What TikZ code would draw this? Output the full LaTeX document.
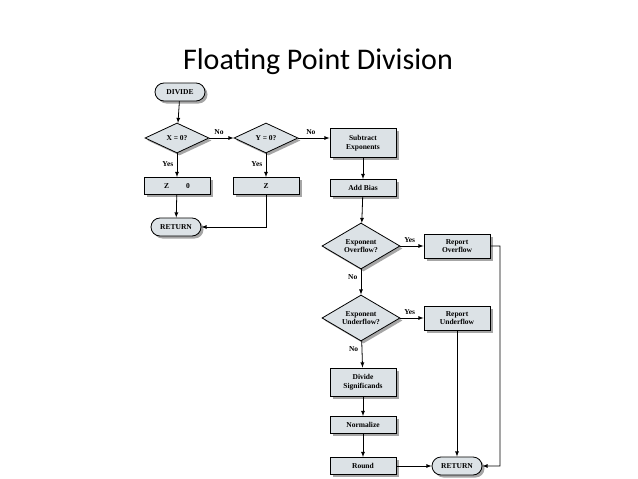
\documentclass[tikz,border=0pt]{standalone}
\usepackage{fontspec}
\setmainfont{Liberation Serif}
\newfontfamily\titlefont{Carlito}
\usetikzlibrary{shapes.geometric,shapes.misc}
\definecolor{boxfill}{HTML}{DCE2E6}
\tikzset{
  x=1pt,y=-1pt,
  base/.style={draw,line width=0.8pt,fill=boxfill,font=\bfseries\fontsize{7.5}{8.5}\selectfont,align=center,inner sep=1pt,
    preaction={fill=gray!70,transform canvas={shift={(2.5pt,-2.5pt)}}}},
  proc/.style={base,rectangle,minimum width=66pt},
  term/.style={base,rounded rectangle,minimum width=52pt,minimum height=18pt},
  dec/.style={base,diamond,aspect=2.1,inner sep=0pt},
  arr/.style={->,>=latex,line width=0.8pt},
  lab/.style={font=\bfseries\fontsize{7.5}{8.5}\selectfont}
}
\begin{document}
\begin{tikzpicture}
\useasboundingbox (0,0) rectangle (638,479);
\node[font=\titlefont\fontsize{30}{34}\selectfont] (title) at (318,62) {Floating Point Division};
\node[term] (divide) at (180,92) {DIVIDE};
\node[dec,minimum width=64pt,minimum height=30pt] (x0) at (177,138) {X = 0?};
\node[dec,minimum width=64pt,minimum height=30pt] (y0) at (266,138) {Y = 0?};
\node[proc,minimum height=29pt] (sub) at (363,143) {Subtract\\Exponents};
\node[proc,minimum height=17pt] (zx) at (177,186) {Z \qquad 0};
\node[proc,minimum height=17pt] (zy) at (266,186) {Z};
\node[term] (ret1) at (176,227) {RETURN};
\node[proc,minimum height=17pt] (bias) at (363,188) {Add Bias};
\node[dec,minimum width=78pt,minimum height=46pt] (ovf) at (361,246) {Exponent\\Overflow?};
\node[proc,minimum height=24pt] (rovf) at (457,246) {Report\\Overflow};
\node[dec,minimum width=78pt,minimum height=46pt] (unf) at (361,318) {Exponent\\Underflow?};
\node[proc,minimum height=24pt] (runf) at (457,318) {Report\\Underflow};
\node[proc,minimum height=28pt] (divs) at (363,382) {Divide\\Significands};
\node[proc,minimum height=17pt] (norm) at (363,425) {Normalize};
\node[proc,minimum height=17pt] (round) at (363,466) {Round};
\node[term] (ret2) at (457,466) {RETURN};
\coordinate (c1) at (500,246);
\coordinate (c2) at (500,466);
\draw[arr] (divide) -- (x0);
\draw[arr] (x0) -- node[lab,above,pos=0.4] {No} (y0);
\draw[arr] (y0) -- node[lab,above,pos=0.4] {No} (sub.west |- y0);
\draw[arr] (x0) -- node[lab,left,pos=0.45] {Yes} (zx);
\draw[arr] (y0) -- node[lab,left,pos=0.45] {Yes} (zy);
\draw[arr] (zx) -- (ret1);
\draw[arr] (zy) |- (ret1);
\draw[arr] (sub) -- (bias);
\draw[arr] (bias) -- (ovf);
\draw[arr] (ovf) -- node[lab,above,pos=0.4] {Yes} (rovf);
\draw[arr] (ovf) -- node[lab,left,pos=0.3] {No} (unf);
\draw[arr] (unf) -- node[lab,above,pos=0.4] {Yes} (runf);
\draw[arr] (unf) -- node[lab,left,pos=0.3] {No} (divs);
\draw[arr] (divs) -- (norm);
\draw[arr] (norm) -- (round);
\draw[arr] (round) -- (ret2);
\draw[arr] (runf) -- (ret2);
\draw[arr] (rovf.east) -- (c1) -- (c2) -- (ret2);
\end{tikzpicture}
\end{document}
